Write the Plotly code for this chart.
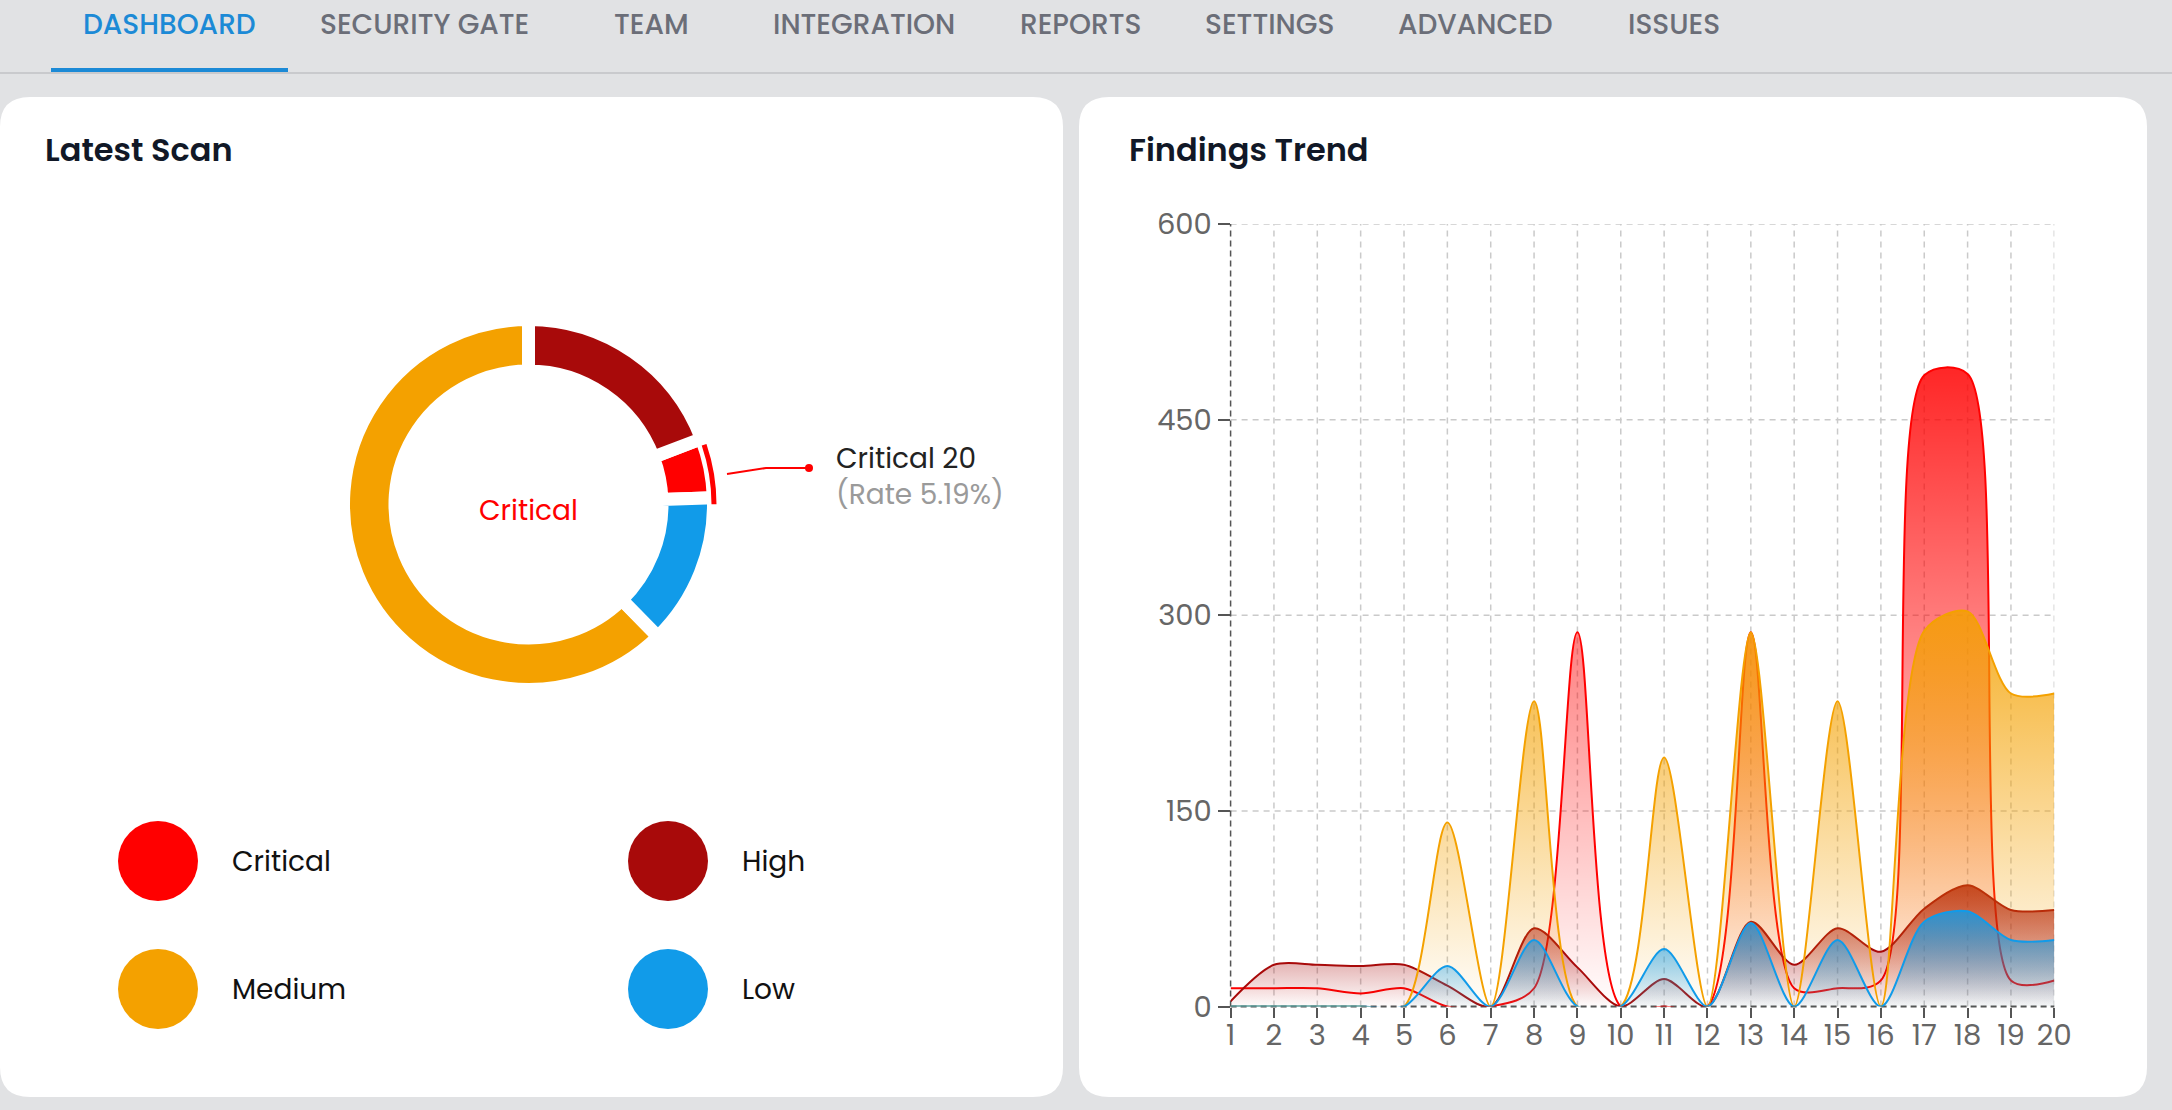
import plotly.graph_objects as go

# ---------------- data ----------------
days = list(range(1, 21))
day_labels = [str(d) for d in days]
critical = [14, 14, 14, 10, 14, 0, 0, 14, 287, 0, 0, 0, 287, 14, 14, 20, 484, 485, 20, 20]
high = [4, 32, 32, 31, 32, 16, 0, 60, 30, 0, 21, 0, 65, 32, 60, 42, 75, 93, 74, 74]
medium = [0, 0, 0, 0, 0, 141, 0, 234, 0, 0, 191, 0, 287, 0, 234, 0, 288, 303, 240, 240]
low = [0, 0, 0, 0, 0, 31, 0, 51, 0, 0, 44, 0, 64, 0, 51, 0, 65, 73, 51, 51]
severities = ["Critical", "High", "Medium", "Low"]
sev_colors = ["#ff0000", "#a80a0a", "#f4a100", "#119be9"]
y_ticks = [0, 150, 300, 450, 600]
tabs = ["DASHBOARD", "SECURITY GATE", "TEAM", "INTEGRATION", "REPORTS", "SETTINGS", "ADVANCED", "ISSUES"]
active_tab = "DASHBOARD"
focus_index = 0

series = [critical, high, medium, low]
latest = [s[-1] for s in series]
total = sum(latest)
rate = latest[focus_index] / total * 100

# ---------------- layout helpers ----------------
W, H = 2172, 1110
FONT = "Poppins, 'Open Sans', sans-serif"


def px(x):
    return x / W


def py(y):
    return 1 - y / H


def rgba(hexcol, a):
    h = hexcol.lstrip("#")
    r, g, b = int(h[0:2], 16), int(h[2:4], 16), int(h[4:6], 16)
    return f"rgba({r},{g},{b},{a})"


def rounded_rect(x0, y0, x1, y1, r):
    P = lambda x, y: f"{px(x):.6f},{py(y):.6f}"
    return (f"M {P(x0 + r, y0)} L {P(x1 - r, y0)} Q {P(x1, y0)} {P(x1, y0 + r)} "
            f"L {P(x1, y1 - r)} Q {P(x1, y1)} {P(x1 - r, y1)} L {P(x0 + r, y1)} "
            f"Q {P(x0, y1)} {P(x0, y1 - r)} L {P(x0, y0 + r)} Q {P(x0, y0)} {P(x0 + r, y0)} Z")


fig = go.Figure()

# ---------------- trend areas ----------------
for name, vals, col in zip(severities, series, sev_colors):
    fig.add_trace(go.Scatter(
        x=days, y=vals, name=name, mode="lines",
        line=dict(color=col, width=2, shape="spline", smoothing=0.85),
        fill="tozeroy",
        fillgradient=dict(type="vertical",
                          colorscale=[[0, rgba(col, 0.0)], [1, rgba(col, 0.85)]]),
        hoverinfo="skip", showlegend=False,
    ))

# ---------------- donut ----------------
# counterclockwise: first slice occupies [rotation, rotation + share] (clockwise from 12 o'clock)
rotation = latest[1] / total * 360
cx, cy = 528.5, 504.5
R_out, R_in = 185, 133.5
fig.add_trace(go.Pie(
    values=latest, labels=severities, sort=False, direction="counterclockwise",
    rotation=rotation, hole=R_in / R_out, textinfo="none", hoverinfo="skip", showlegend=False,
    marker=dict(colors=sev_colors, line=dict(color="white", width=13)),
    domain=dict(x=[px(cx - R_out), px(cx + R_out)], y=[py(cy + R_out), py(cy - R_out)]),
))
R2o, R2i = 188, 183
fig.add_trace(go.Pie(
    values=latest, labels=severities, sort=False, direction="counterclockwise",
    rotation=rotation + 2, hole=R2i / R2o, textinfo="none", hoverinfo="skip", showlegend=False,
    marker=dict(colors=[sev_colors[i] if i == focus_index else "rgba(0,0,0,0)"
                        for i in range(len(severities))],
                line=dict(width=0)),
    domain=dict(x=[px(cx - R2o), px(cx + R2o)], y=[py(cy + R2o), py(cy - R2o)]),
))

shapes = []
annotations = []

# cards
shapes.append(dict(type="path", xref="paper", yref="paper", path=rounded_rect(0, 97, 1063, 1097, 30),
                   fillcolor="white", line=dict(width=0), layer="below"))
shapes.append(dict(type="path", xref="paper", yref="paper", path=rounded_rect(1079, 97, 2147, 1097, 30),
                   fillcolor="white", line=dict(width=0), layer="below"))

# plot area geometry
X_L, X_R = 1230.6, 2054.3
Y_B, Y_T = 1006.5, 224

# dashed grid (light) at every tick except the axis positions, plus dark dashed axis lines
GRID = dict(color="#cacaca", width=1.5, dash="6px,5px")
for d in days[1:]:
    shapes.append(dict(type="line", xref="x", yref="y domain", x0=d, x1=d, y0=0, y1=1,
                       line=GRID, layer="below"))
for v in y_ticks[1:]:
    shapes.append(dict(type="line", xref="x domain", yref="y", x0=0, x1=1, y0=v, y1=v,
                       line=GRID, layer="below"))
shapes.append(dict(type="line", xref="x domain", yref="y domain", x0=0, x1=0, y0=0, y1=1,
                   line=dict(color="#555555", width=1.5, dash="6px,4px"), layer="below"))
shapes.append(dict(type="line", xref="x domain", yref="y domain", x0=0, x1=1, y0=0, y1=0,
                   line=dict(color="#555555", width=2, dash="6px,4px"), layer="below"))

# tab bar
tab_x = [169, 424, 651, 864, 1080, 1269, 1475, 1674]
for t, x in zip(tabs, tab_x):
    annotations.append(dict(text=t, x=px(x), y=py(25), xref="paper", yref="paper",
                            xanchor="center", yanchor="middle", showarrow=False,
                            font=dict(family=FONT, size=28, weight=500,
                                      color="#1c8ad6" if t == active_tab else "#6b6e78")))
shapes.append(dict(type="rect", xref="paper", yref="paper", x0=0, x1=1, y0=py(74), y1=py(72),
                   fillcolor="#c9cacd", line=dict(width=0), layer="below"))
shapes.append(dict(type="rect", xref="paper", yref="paper", x0=px(51), x1=px(288), y0=py(72), y1=py(68),
                   fillcolor="#1c8ad6", line=dict(width=0)))

# titles
annotations.append(dict(text="Latest Scan", x=px(43), y=py(150), xref="paper", yref="paper",
                        xanchor="left", yanchor="middle", showarrow=False,
                        font=dict(family=FONT, size=32, weight=600, color="#111827")))
annotations.append(dict(text="Findings Trend", x=px(1127), y=py(150), xref="paper", yref="paper",
                        xanchor="left", yanchor="middle", showarrow=False,
                        font=dict(family=FONT, size=32, weight=600, color="#111827")))

# donut center + label
annotations.append(dict(text=severities[focus_index], x=px(cx), y=py(511), xref="paper", yref="paper",
                        xanchor="center", yanchor="middle", showarrow=False,
                        font=dict(family=FONT, size=28, color=sev_colors[focus_index])))
annotations.append(dict(text=f"{severities[focus_index]} {latest[focus_index]}", x=px(834), y=py(458),
                        xref="paper", yref="paper", xanchor="left", yanchor="middle", showarrow=False,
                        font=dict(family=FONT, size=28, color="#222222")))
annotations.append(dict(text=f"(Rate {rate:.2f}%)", x=px(834), y=py(494),
                        xref="paper", yref="paper", xanchor="left", yanchor="middle", showarrow=False,
                        font=dict(family=FONT, size=28, color="#9a9a9a")))
shapes.append(dict(type="path", xref="paper", yref="paper",
                   path=f"M {px(727):.6f},{py(474):.6f} L {px(766):.6f},{py(468):.6f} L {px(809):.6f},{py(468):.6f}",
                   line=dict(color=sev_colors[focus_index], width=2)))
shapes.append(dict(type="circle", xref="paper", yref="paper", x0=px(805), x1=px(813), y0=py(472), y1=py(464),
                   fillcolor=sev_colors[focus_index], line=dict(width=0)))

# legend
leg_pos = [(158, 861), (668, 861), (158, 989), (668, 989)]
for (lx, ly), name, col in zip(leg_pos, severities, sev_colors):
    shapes.append(dict(type="circle", xref="paper", yref="paper",
                       x0=px(lx - 40), x1=px(lx + 40), y0=py(ly + 40), y1=py(ly - 40),
                       fillcolor=col, line=dict(width=0)))
    annotations.append(dict(text=name, x=px(lx + 72), y=py(ly), xref="paper", yref="paper",
                            xanchor="left", yanchor="middle", showarrow=False,
                            font=dict(family=FONT, size=28, color="#111111")))

tickfont = dict(family=FONT, size=29, color="#666666")
fig.update_layout(
    width=W, height=H, margin=dict(l=0, r=0, t=0, b=0, autoexpand=False),
    paper_bgcolor="#e1e2e4", plot_bgcolor="rgba(0,0,0,0)",
    showlegend=False, shapes=shapes, annotations=annotations,
    xaxis=dict(domain=[px(X_L), px(X_R)], range=[1, 20], tickvals=days, ticktext=day_labels,
               showgrid=False, ticks="outside", ticklen=10, tickwidth=2, tickcolor="#555555",
               tickfont=tickfont, automargin=False, ticklabelstandoff=-7,
               showline=False, zeroline=False, fixedrange=True),
    yaxis=dict(domain=[py(Y_B), py(Y_T)], range=[0, 600], tickvals=y_ticks,
               showgrid=False, ticks="outside", ticklen=12, tickwidth=2, tickcolor="#555555",
               tickfont=tickfont, automargin=False,
               showline=False, zeroline=False, fixedrange=True),
)

fig.write_html("out.html")
